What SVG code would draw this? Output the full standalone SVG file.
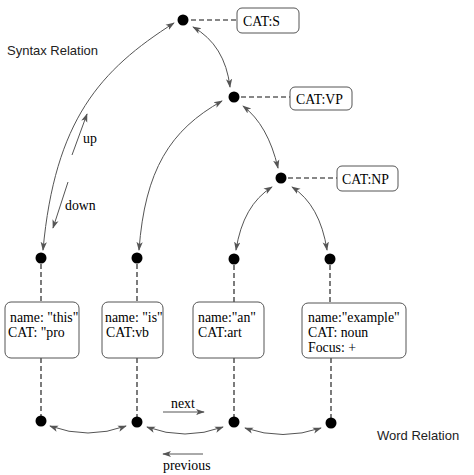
<svg xmlns="http://www.w3.org/2000/svg" width="474" height="475" viewBox="0 0 474 475">
<defs>
<marker id="ah" viewBox="0 0 10 10" refX="9" refY="5" markerWidth="9" markerHeight="9" markerUnits="userSpaceOnUse" orient="auto-start-reverse">
<path d="M0,1.5 L10,5 L0,8.5 L2.5,5 Z" fill="#555"/>
</marker>
<style>
.dot{fill:#000}
.box{fill:#fff;stroke:#555;stroke-width:1}
.dash{stroke:#111;stroke-width:1.1;stroke-dasharray:5,3;fill:none}
.arc{fill:none;stroke:#555;stroke-width:1}
.t{font-family:"Liberation Serif","Times New Roman",serif;font-size:13.8px;fill:#000}
.s{font-family:"Liberation Sans",Arial,sans-serif;font-size:13px;fill:#222}
</style>
</defs>
<rect width="474" height="475" fill="#fff"/>
<g id="labels">
<text class="s" x="7" y="55">Syntax Relation</text>
<text class="s" x="377" y="440">Word Relation</text>
<text class="t" x="83" y="143">up</text>
<text class="t" x="65" y="210">down</text>
<text class="t" x="171" y="408">next</text>
<text class="t" x="163" y="470">previous</text>
</g>
<g id="connectors">
<path class="dash" d="M191,20 H237"/>
<path class="dash" d="M241,97 H290"/>
<path class="dash" d="M288,178 H337"/>
<path class="dash" d="M41,264 V302 M41,358 V416"/>
<path class="dash" d="M137,264 V302 M137,358 V417"/>
<path class="dash" d="M234,265 V302 M234,358 V417"/>
<path class="dash" d="M330,265 V303 M331,358 V418"/>
<path class="arc" marker-start="url(#ah)" marker-end="url(#ah)" d="M174,23 C100,70 55,120 43,250"/>
<path class="arc" marker-start="url(#ah)" marker-end="url(#ah)" d="M222,101 C170,130 145,170 139,250"/>
<path class="arc" marker-start="url(#ah)" marker-end="url(#ah)" d="M193,27 Q225,45 230,87"/>
<path class="arc" marker-start="url(#ah)" marker-end="url(#ah)" d="M243,106 Q268,125 278,168"/>
<path class="arc" marker-start="url(#ah)" marker-end="url(#ah)" d="M272,187 Q243,205 236,250"/>
<path class="arc" marker-start="url(#ah)" marker-end="url(#ah)" d="M292,187 Q320,205 327,250"/>
<path class="arc" marker-start="url(#ah)" marker-end="url(#ah)" d="M50,426 Q88,440 126,426"/>
<path class="arc" marker-start="url(#ah)" marker-end="url(#ah)" d="M147,427 Q185,441 223,427"/>
<path class="arc" marker-start="url(#ah)" marker-end="url(#ah)" d="M245,428 Q283,441 321,428"/>
<path class="arc" marker-end="url(#ah)" d="M72,155 L87,114"/>
<path class="arc" marker-end="url(#ah)" d="M68,182 L53,228"/>
<path class="arc" marker-end="url(#ah)" d="M163,412 L204,412"/>
<path class="arc" marker-end="url(#ah)" d="M203,454 L163,454"/>
</g>
<g id="node-S">
<circle class="dot" cx="183" cy="20" r="5.5"/>
<rect class="box" x="237" y="8" width="62" height="25" rx="5"/>
<text class="t" x="243" y="26">CAT:S</text>
</g>
<g id="node-VP">
<circle class="dot" cx="234" cy="97" r="5.5"/>
<rect class="box" x="290" y="87" width="62" height="23" rx="5"/>
<text class="t" x="296" y="104">CAT:VP</text>
</g>
<g id="node-NP">
<circle class="dot" cx="281" cy="178" r="5.5"/>
<rect class="box" x="337" y="166" width="61" height="25" rx="5"/>
<text class="t" x="342" y="184">CAT:NP</text>
</g>
<g id="word-this">
<circle class="dot" cx="41" cy="258" r="5.5"/>
<rect class="box" x="5" y="302" width="74" height="56" rx="6"/>
<text class="t" x="10" y="322">name: "this"</text>
<text class="t" x="8" y="337">CAT: "pro</text>
<circle class="dot" cx="41" cy="421" r="5.5"/>
</g>
<g id="word-is">
<circle class="dot" cx="137" cy="258" r="5.5"/>
<rect class="box" x="102" y="302" width="61" height="56" rx="6"/>
<text class="t" x="105" y="322">name: "is"</text>
<text class="t" x="106" y="337">CAT:vb</text>
<circle class="dot" cx="137" cy="422" r="5.5"/>
</g>
<g id="word-an">
<circle class="dot" cx="234" cy="259" r="5.5"/>
<rect class="box" x="193" y="302" width="71" height="56" rx="6"/>
<text class="t" x="198" y="322">name:"an"</text>
<text class="t" x="198" y="337">CAT:art</text>
<circle class="dot" cx="234" cy="422" r="5.5"/>
</g>
<g id="word-example">
<circle class="dot" cx="330" cy="259" r="5.5"/>
<rect class="box" x="302" y="303" width="104" height="55" rx="6"/>
<text class="t" x="308" y="322">name:"example"</text>
<text class="t" x="308" y="337">CAT: noun</text>
<text class="t" x="308" y="352">Focus: +</text>
<circle class="dot" cx="331" cy="423" r="5.5"/>
</g>
</svg>
